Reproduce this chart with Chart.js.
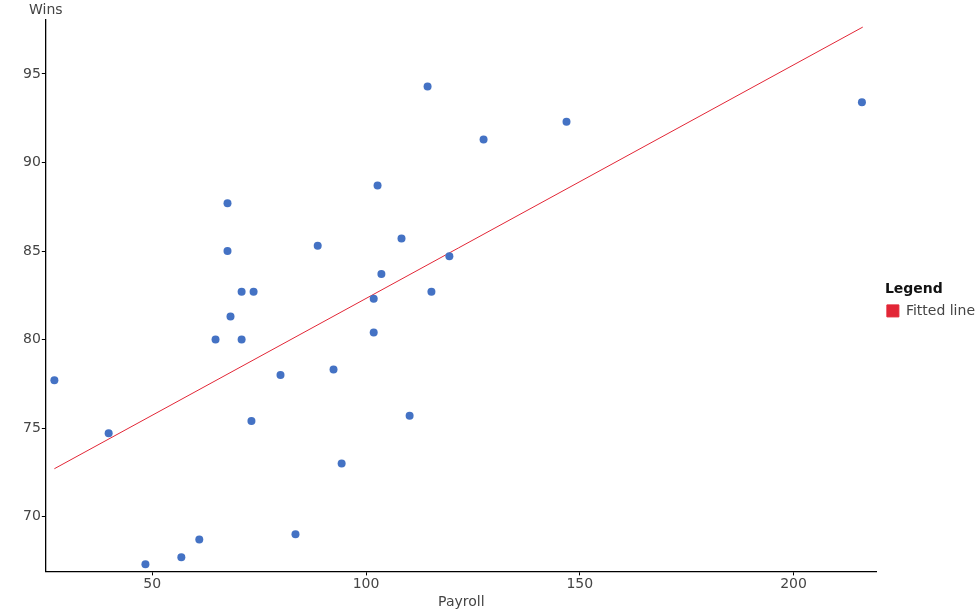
<!DOCTYPE html>
<html>
<head>
<meta charset="utf-8">
<script src="https://cdn.jsdelivr.net/npm/chart.js@4"></script>
<style>
  body { margin: 0; background: #fff; }
  #wrap { width: 977px; height: 612px; }
</style>
</head>
<body>
<div id="wrap"><canvas id="chart"></canvas></div>
<script>
// payroll (x) vs wins (y)
const payroll = [27.1, 39.8, 48.4, 56.8, 61.0, 64.8, 67.6, 67.6, 68.3, 70.9,
  70.9, 73.2, 73.7, 80.0, 83.5, 88.7, 92.4, 94.3, 101.8, 101.8,
  102.7, 103.6, 108.3, 110.2, 114.4, 115.3, 119.5, 127.5, 146.9, 216.0];
const wins = [77.7, 74.7, 67.3, 67.7, 68.7, 80.0, 87.7, 85.0, 81.3, 82.7,
  80.0, 75.4, 82.7, 78.0, 69.0, 85.3, 78.3, 73.0, 82.3, 80.4,
  88.7, 83.7, 85.7, 75.7, 94.3, 82.7, 84.7, 91.3, 92.3, 93.4];

// fitted line end points
const fitX = [27.1, 216.2];
const fitY = [72.7, 97.65];

const xTicks = [50, 100, 150, 200];
const yTicks = [70, 75, 80, 85, 90, 95];

const red = 'rgb(226, 38, 54)';
const blue = 'rgb(68, 114, 196)';
const fontFamily = '"DejaVu Sans", Verdana, sans-serif';

// "Wins" sits on top of the y axis, not rotated beside it
const yTitle = {
  id: 'yTitle',
  afterDraw(chart) {
    const ctx = chart.ctx;
    const x = chart.scales.x.left;
    ctx.save();
    ctx.font = '14px ' + fontFamily;
    ctx.fillStyle = '#444';
    ctx.textAlign = 'center';
    ctx.textBaseline = 'middle';
    ctx.fillText('Wins', x, 10);
    ctx.restore();
  }
};

// nudge the legend box closer to the plot and a bit higher
const legendShift = {
  id: 'legendShift',
  afterLayout(chart) {
    const lg = chart.legend;
    const dx = chart.chartArea.right + 8 - lg.left;
    const dy = -15;
    lg.left += dx; lg.right += dx;
    lg.top += dy; lg.bottom += dy;
  }
};

new Chart(document.getElementById('chart'), {
  type: 'scatter',
  data: {
    datasets: [
      {
        label: 'Payroll vs Wins',
        data: payroll.map((p, i) => ({ x: p, y: wins[i] })),
        backgroundColor: blue,
        borderWidth: 0,
        pointRadius: 4,
        pointHoverRadius: 4
      },
      {
        type: 'line',
        label: 'Fitted line',
        data: fitX.map((p, i) => ({ x: p, y: fitY[i] })),
        borderColor: red,
        backgroundColor: red,
        borderWidth: 1,
        pointRadius: 0,
        fill: false
      }
    ]
  },
  options: {
    responsive: true,
    maintainAspectRatio: false,
    animation: false,
    layout: { padding: { top: 20, left: 22, right: 0, bottom: 0 } },
    plugins: {
      tooltip: { enabled: false },
      legend: {
        position: 'right',
        align: 'center',
        title: {
          display: true,
          text: 'Legend',
          position: 'start',
          color: '#111',
          font: { family: fontFamily, size: 14, weight: 'bold' },
          padding: { top: 0, bottom: 3 }
        },
        labels: {
          filter: (item) => item.text === 'Fitted line',
          boxWidth: 12,
          boxHeight: 12,
          padding: 2,
          color: '#444',
          font: { family: fontFamily, size: 14 }
        }
      }
    },
    scales: {
      x: {
        type: 'linear',
        min: 25.1,
        max: 219.5,
        afterBuildTicks: (axis) => { axis.ticks = xTicks.map(v => ({ value: v })); },
        grid: { display: true, drawOnChartArea: false, color: '#000', tickLength: 4, tickWidth: 1 },
        border: { color: '#000', width: 1.3 },
        ticks: { color: '#444', font: { family: fontFamily, size: 14 }, padding: 1, maxRotation: 0 },
        title: { display: true, text: 'Payroll', color: '#444', font: { family: fontFamily, size: 14 }, padding: { top: 0, bottom: 1 } }
      },
      y: {
        type: 'linear',
        min: 66.9,
        max: 98.05,
        afterBuildTicks: (axis) => { axis.ticks = yTicks.map(v => ({ value: v })); },
        grid: { display: true, drawOnChartArea: false, color: '#000', tickLength: 4, tickWidth: 1 },
        border: { color: '#000', width: 1.3 },
        ticks: { color: '#444', font: { family: fontFamily, size: 14 }, padding: 1 }
      }
    }
  },
  plugins: [yTitle, legendShift]
});
</script>
</body>
</html>
